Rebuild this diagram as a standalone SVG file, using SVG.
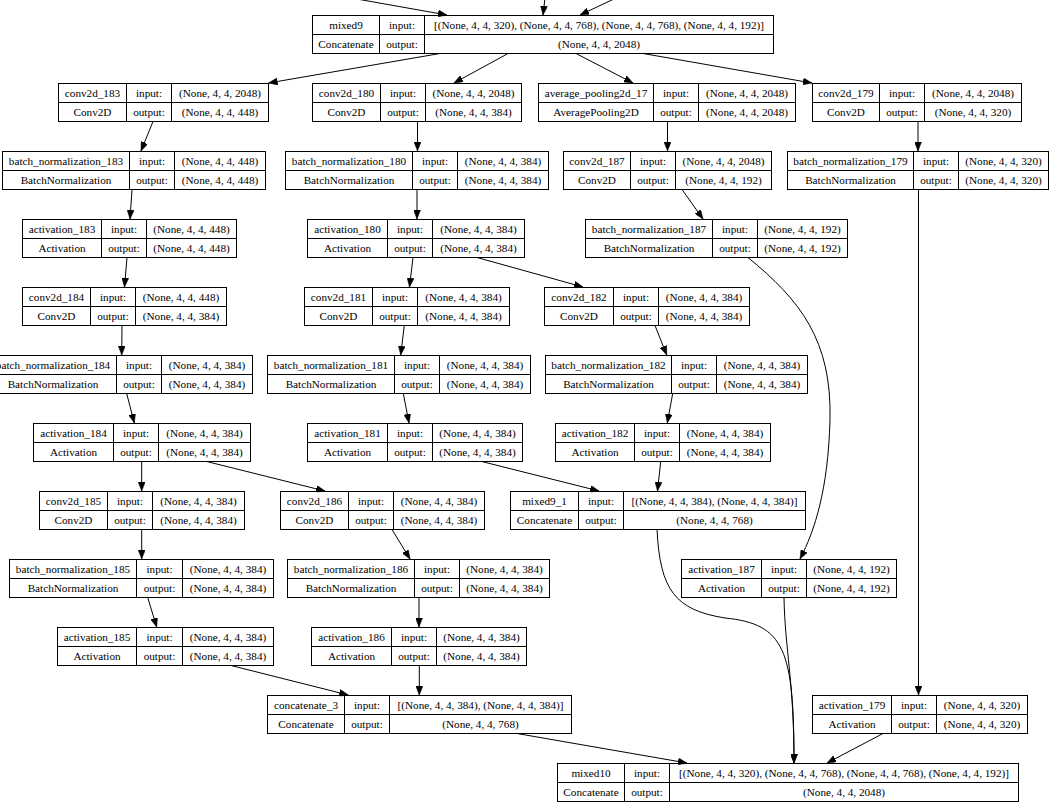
<svg xmlns="http://www.w3.org/2000/svg" width="1055" height="804" viewBox="0 0 1055 804">
<defs>
<style>
.n rect{fill:#fff;stroke:#000;stroke-width:1}
.n path{fill:none;stroke:#000;stroke-width:1}
.n text{font-family:"Liberation Serif","Times New Roman",serif;font-size:11.2px;text-anchor:middle;fill:#000}
.e path{fill:none;stroke:#000;stroke-width:1;marker-end:url(#ah)}
</style>
<marker id="ah" markerWidth="9" markerHeight="7" refX="9" refY="3.5" orient="auto" markerUnits="userSpaceOnUse"><path d="M0,0 L9,3.5 L0,7 z" fill="#000" stroke="#000" stroke-width="0.5"/></marker>
</defs>
<rect width="1055" height="804" fill="#fff"/>

<g id="nodes">
<g id="mixed9" class="n"><rect x="312.5" y="15.5" width="461" height="38"/><path d="M312.5 34.5H773.5M379.5 15.5V53.5M424.5 15.5V53.5"/>
<text x="346" y="29">mixed9</text><text x="402" y="29">input:</text><text x="599" y="29">[(None, 4, 4, 320), (None, 4, 4, 768), (None, 4, 4, 768), (None, 4, 4, 192)]</text>
<text x="346" y="48">Concatenate</text><text x="402" y="48">output:</text><text x="599" y="48">(None, 4, 4, 2048)</text></g>

<g id="conv2d_183" class="n"><rect x="58.5" y="83.5" width="210" height="38"/><path d="M58.5 102.5H268.5M126.5 83.5V121.5M171.5 83.5V121.5"/>
<text x="92.5" y="97">conv2d_183</text><text x="149" y="97">input:</text><text x="220" y="97">(None, 4, 4, 2048)</text>
<text x="92.5" y="116">Conv2D</text><text x="149" y="116">output:</text><text x="220" y="116">(None, 4, 4, 448)</text></g>

<g id="conv2d_180" class="n"><rect x="312.5" y="83.5" width="209" height="38"/><path d="M312.5 102.5H521.5M380.5 83.5V121.5M425.5 83.5V121.5"/>
<text x="346.5" y="97">conv2d_180</text><text x="403" y="97">input:</text><text x="473.5" y="97">(None, 4, 4, 2048)</text>
<text x="346.5" y="116">Conv2D</text><text x="403" y="116">output:</text><text x="473.5" y="116">(None, 4, 4, 384)</text></g>

<g id="average_pooling2d_17" class="n"><rect x="538.5" y="83.5" width="257" height="38"/><path d="M538.5 102.5H795.5M653.5 83.5V121.5M698.5 83.5V121.5"/>
<text x="596" y="97">average_pooling2d_17</text><text x="676" y="97">input:</text><text x="747" y="97">(None, 4, 4, 2048)</text>
<text x="596" y="116">AveragePooling2D</text><text x="676" y="116">output:</text><text x="747" y="116">(None, 4, 4, 2048)</text></g>

<g id="conv2d_179" class="n"><rect x="812.5" y="83.5" width="209" height="38"/><path d="M812.5 102.5H1021.5M879.5 83.5V121.5M924.5 83.5V121.5"/>
<text x="846" y="97">conv2d_179</text><text x="902" y="97">input:</text><text x="973" y="97">(None, 4, 4, 2048)</text>
<text x="846" y="116">Conv2D</text><text x="902" y="116">output:</text><text x="973" y="116">(None, 4, 4, 320)</text></g>

<g id="batch_normalization_183" class="n"><rect x="2.5" y="151.5" width="263" height="38"/><path d="M2.5 170.5H265.5M129.5 151.5V189.5M174.5 151.5V189.5"/>
<text x="66" y="165">batch_normalization_183</text><text x="152" y="165">input:</text><text x="220" y="165">(None, 4, 4, 448)</text>
<text x="66" y="184">BatchNormalization</text><text x="152" y="184">output:</text><text x="220" y="184">(None, 4, 4, 448)</text></g>

<g id="batch_normalization_180" class="n"><rect x="285.5" y="151.5" width="263" height="38"/><path d="M285.5 170.5H548.5M412.5 151.5V189.5M457.5 151.5V189.5"/>
<text x="349" y="165">batch_normalization_180</text><text x="435" y="165">input:</text><text x="503" y="165">(None, 4, 4, 384)</text>
<text x="349" y="184">BatchNormalization</text><text x="435" y="184">output:</text><text x="503" y="184">(None, 4, 4, 384)</text></g>

<g id="conv2d_187" class="n"><rect x="563.5" y="151.5" width="208" height="38"/><path d="M563.5 170.5H771.5M630.5 151.5V189.5M675.5 151.5V189.5"/>
<text x="597" y="165">conv2d_187</text><text x="653" y="165">input:</text><text x="723.5" y="165">(None, 4, 4, 2048)</text>
<text x="597" y="184">Conv2D</text><text x="653" y="184">output:</text><text x="723.5" y="184">(None, 4, 4, 192)</text></g>

<g id="batch_normalization_179" class="n"><rect x="787.5" y="151.5" width="261" height="38"/><path d="M787.5 170.5H1048.5M913.5 151.5V189.5M958.5 151.5V189.5"/>
<text x="850.5" y="165">batch_normalization_179</text><text x="936" y="165">input:</text><text x="1003.5" y="165">(None, 4, 4, 320)</text>
<text x="850.5" y="184">BatchNormalization</text><text x="936" y="184">output:</text><text x="1003.5" y="184">(None, 4, 4, 320)</text></g>

<g id="activation_183" class="n"><rect x="22.5" y="219.5" width="214" height="38"/><path d="M22.5 238.5H236.5M101.5 219.5V257.5M146.5 219.5V257.5"/>
<text x="62" y="233">activation_183</text><text x="124" y="233">input:</text><text x="191.5" y="233">(None, 4, 4, 448)</text>
<text x="62" y="252">Activation</text><text x="124" y="252">output:</text><text x="191.5" y="252">(None, 4, 4, 448)</text></g>

<g id="activation_180" class="n"><rect x="307.5" y="219.5" width="217" height="38"/><path d="M307.5 238.5H524.5M387.5 219.5V257.5M432.5 219.5V257.5"/>
<text x="347.5" y="233">activation_180</text><text x="410" y="233">input:</text><text x="478.5" y="233">(None, 4, 4, 384)</text>
<text x="347.5" y="252">Activation</text><text x="410" y="252">output:</text><text x="478.5" y="252">(None, 4, 4, 384)</text></g>

<g id="batch_normalization_187" class="n"><rect x="585.5" y="219.5" width="262" height="38"/><path d="M585.5 238.5H847.5M712.5 219.5V257.5M757.5 219.5V257.5"/>
<text x="649" y="233">batch_normalization_187</text><text x="735" y="233">input:</text><text x="802.5" y="233">(None, 4, 4, 192)</text>
<text x="649" y="252">BatchNormalization</text><text x="735" y="252">output:</text><text x="802.5" y="252">(None, 4, 4, 192)</text></g>

<g id="conv2d_184" class="n"><rect x="22.5" y="287.5" width="204" height="38"/><path d="M22.5 306.5H226.5M90.5 287.5V325.5M135.5 287.5V325.5"/>
<text x="56.5" y="301">conv2d_184</text><text x="113" y="301">input:</text><text x="181" y="301">(None, 4, 4, 448)</text>
<text x="56.5" y="320">Conv2D</text><text x="113" y="320">output:</text><text x="181" y="320">(None, 4, 4, 384)</text></g>

<g id="conv2d_181" class="n"><rect x="304.5" y="287.5" width="205" height="38"/><path d="M304.5 306.5H509.5M372.5 287.5V325.5M417.5 287.5V325.5"/>
<text x="338.5" y="301">conv2d_181</text><text x="395" y="301">input:</text><text x="463.5" y="301">(None, 4, 4, 384)</text>
<text x="338.5" y="320">Conv2D</text><text x="395" y="320">output:</text><text x="463.5" y="320">(None, 4, 4, 384)</text></g>

<g id="conv2d_182" class="n"><rect x="544.5" y="287.5" width="205" height="38"/><path d="M544.5 306.5H749.5M613.5 287.5V325.5M658.5 287.5V325.5"/>
<text x="579" y="301">conv2d_182</text><text x="636" y="301">input:</text><text x="704" y="301">(None, 4, 4, 384)</text>
<text x="579" y="320">Conv2D</text><text x="636" y="320">output:</text><text x="704" y="320">(None, 4, 4, 384)</text></g>

<g id="batch_normalization_184" class="n"><rect x="-10.5" y="355.5" width="263" height="38"/><path d="M-10.5 374.5H252.5M116.5 355.5V393.5M161.5 355.5V393.5"/>
<text x="53" y="369">batch_normalization_184</text><text x="139" y="369">input:</text><text x="207" y="369">(None, 4, 4, 384)</text>
<text x="53" y="388">BatchNormalization</text><text x="139" y="388">output:</text><text x="207" y="388">(None, 4, 4, 384)</text></g>

<g id="batch_normalization_181" class="n"><rect x="267.5" y="355.5" width="263" height="38"/><path d="M267.5 374.5H530.5M394.5 355.5V393.5M439.5 355.5V393.5"/>
<text x="331" y="369">batch_normalization_181</text><text x="417" y="369">input:</text><text x="485" y="369">(None, 4, 4, 384)</text>
<text x="331" y="388">BatchNormalization</text><text x="417" y="388">output:</text><text x="485" y="388">(None, 4, 4, 384)</text></g>

<g id="batch_normalization_182" class="n"><rect x="545.5" y="355.5" width="262" height="38"/><path d="M545.5 374.5H807.5M671.5 355.5V393.5M716.5 355.5V393.5"/>
<text x="608.5" y="369">batch_normalization_182</text><text x="694" y="369">input:</text><text x="762" y="369">(None, 4, 4, 384)</text>
<text x="608.5" y="388">BatchNormalization</text><text x="694" y="388">output:</text><text x="762" y="388">(None, 4, 4, 384)</text></g>

<g id="activation_184" class="n"><rect x="33.5" y="423.5" width="217" height="38"/><path d="M33.5 442.5H250.5M113.5 423.5V461.5M158.5 423.5V461.5"/>
<text x="73.5" y="437">activation_184</text><text x="136" y="437">input:</text><text x="204.5" y="437">(None, 4, 4, 384)</text>
<text x="73.5" y="456">Activation</text><text x="136" y="456">output:</text><text x="204.5" y="456">(None, 4, 4, 384)</text></g>

<g id="activation_181" class="n"><rect x="307.5" y="423.5" width="215" height="38"/><path d="M307.5 442.5H522.5M387.5 423.5V461.5M432.5 423.5V461.5"/>
<text x="347.5" y="437">activation_181</text><text x="410" y="437">input:</text><text x="477.5" y="437">(None, 4, 4, 384)</text>
<text x="347.5" y="456">Activation</text><text x="410" y="456">output:</text><text x="477.5" y="456">(None, 4, 4, 384)</text></g>

<g id="activation_182" class="n"><rect x="555.5" y="423.5" width="215" height="38"/><path d="M555.5 442.5H770.5M634.5 423.5V461.5M679.5 423.5V461.5"/>
<text x="595" y="437">activation_182</text><text x="657" y="437">input:</text><text x="725" y="437">(None, 4, 4, 384)</text>
<text x="595" y="456">Activation</text><text x="657" y="456">output:</text><text x="725" y="456">(None, 4, 4, 384)</text></g>

<g id="conv2d_185" class="n"><rect x="39.5" y="491.5" width="205" height="38"/><path d="M39.5 510.5H244.5M107.5 491.5V529.5M152.5 491.5V529.5"/>
<text x="73.5" y="505">conv2d_185</text><text x="130" y="505">input:</text><text x="198.5" y="505">(None, 4, 4, 384)</text>
<text x="73.5" y="524">Conv2D</text><text x="130" y="524">output:</text><text x="198.5" y="524">(None, 4, 4, 384)</text></g>

<g id="conv2d_186" class="n"><rect x="280.5" y="491.5" width="204" height="38"/><path d="M280.5 510.5H484.5M348.5 491.5V529.5M393.5 491.5V529.5"/>
<text x="314.5" y="505">conv2d_186</text><text x="371" y="505">input:</text><text x="439" y="505">(None, 4, 4, 384)</text>
<text x="314.5" y="524">Conv2D</text><text x="371" y="524">output:</text><text x="439" y="524">(None, 4, 4, 384)</text></g>

<g id="mixed9_1" class="n"><rect x="510.5" y="491.5" width="295" height="38"/><path d="M510.5 510.5H805.5M578.5 491.5V529.5M623.5 491.5V529.5"/>
<text x="544.5" y="505">mixed9_1</text><text x="601" y="505">input:</text><text x="714.5" y="505">[(None, 4, 4, 384), (None, 4, 4, 384)]</text>
<text x="544.5" y="524">Concatenate</text><text x="601" y="524">output:</text><text x="714.5" y="524">(None, 4, 4, 768)</text></g>

<g id="batch_normalization_185" class="n"><rect x="9.5" y="559.5" width="264" height="38"/><path d="M9.5 578.5H273.5M136.5 559.5V597.5M182.5 559.5V597.5"/>
<text x="73" y="573">batch_normalization_185</text><text x="159.5" y="573">input:</text><text x="228" y="573">(None, 4, 4, 384)</text>
<text x="73" y="592">BatchNormalization</text><text x="159.5" y="592">output:</text><text x="228" y="592">(None, 4, 4, 384)</text></g>

<g id="batch_normalization_186" class="n"><rect x="287.5" y="559.5" width="262" height="38"/><path d="M287.5 578.5H549.5M414.5 559.5V597.5M459.5 559.5V597.5"/>
<text x="351" y="573">batch_normalization_186</text><text x="437" y="573">input:</text><text x="504.5" y="573">(None, 4, 4, 384)</text>
<text x="351" y="592">BatchNormalization</text><text x="437" y="592">output:</text><text x="504.5" y="592">(None, 4, 4, 384)</text></g>

<g id="activation_187" class="n"><rect x="681.5" y="559.5" width="215" height="38"/><path d="M681.5 578.5H896.5M761.5 559.5V597.5M806.5 559.5V597.5"/>
<text x="721.5" y="573">activation_187</text><text x="784" y="573">input:</text><text x="851.5" y="573">(None, 4, 4, 192)</text>
<text x="721.5" y="592">Activation</text><text x="784" y="592">output:</text><text x="851.5" y="592">(None, 4, 4, 192)</text></g>

<g id="activation_185" class="n"><rect x="57.5" y="627.5" width="216" height="38"/><path d="M57.5 646.5H273.5M136.5 627.5V665.5M182.5 627.5V665.5"/>
<text x="97" y="641">activation_185</text><text x="159.5" y="641">input:</text><text x="228" y="641">(None, 4, 4, 384)</text>
<text x="97" y="660">Activation</text><text x="159.5" y="660">output:</text><text x="228" y="660">(None, 4, 4, 384)</text></g>

<g id="activation_186" class="n"><rect x="311.5" y="627.5" width="215" height="38"/><path d="M311.5 646.5H526.5M391.5 627.5V665.5M436.5 627.5V665.5"/>
<text x="351.5" y="641">activation_186</text><text x="414" y="641">input:</text><text x="481.5" y="641">(None, 4, 4, 384)</text>
<text x="351.5" y="660">Activation</text><text x="414" y="660">output:</text><text x="481.5" y="660">(None, 4, 4, 384)</text></g>

<g id="concatenate_3" class="n"><rect x="267.5" y="695.5" width="304" height="38"/><path d="M267.5 714.5H571.5M344.5 695.5V733.5M389.5 695.5V733.5"/>
<text x="306" y="709">concatenate_3</text><text x="367" y="709">input:</text><text x="480.5" y="709">[(None, 4, 4, 384), (None, 4, 4, 384)]</text>
<text x="306" y="728">Concatenate</text><text x="367" y="728">output:</text><text x="480.5" y="728">(None, 4, 4, 768)</text></g>

<g id="activation_179" class="n"><rect x="812.5" y="695.5" width="215" height="38"/><path d="M812.5 714.5H1027.5M891.5 695.5V733.5M936.5 695.5V733.5"/>
<text x="852" y="709">activation_179</text><text x="914" y="709">input:</text><text x="982" y="709">(None, 4, 4, 320)</text>
<text x="852" y="728">Activation</text><text x="914" y="728">output:</text><text x="982" y="728">(None, 4, 4, 320)</text></g>

<g id="mixed10" class="n"><rect x="557.5" y="763.5" width="461" height="38"/><path d="M557.5 782.5H1018.5M624.5 763.5V801.5M669.5 763.5V801.5"/>
<text x="591" y="777">mixed10</text><text x="647" y="777">input:</text><text x="844" y="777">[(None, 4, 4, 320), (None, 4, 4, 768), (None, 4, 4, 768), (None, 4, 4, 192)]</text>
<text x="591" y="796">Concatenate</text><text x="647" y="796">output:</text><text x="844" y="796">(None, 4, 4, 2048)</text></g>
</g>

<g id="connectors" class="e">
<path d="M340 -4L447 15"/>
<path d="M545 -2L543 15"/>
<path d="M616 -2L580 15"/>
<path d="M440 53.5L268.5 83"/>
<path d="M508 53.5L454 83"/>
<path d="M576 53.5L633 83"/>
<path d="M643 53.5L812 83"/>
<path d="M153 121.5L141 151"/>
<path d="M417.5 121.5L417.5 151"/>
<path d="M667.5 121.5L667.5 151"/>
<path d="M918 121.5L918 151"/>
<path d="M132 189.5L130 219"/>
<path d="M417 189.5L417 219"/>
<path d="M682 189.5L703 219"/>
<path d="M918.5 189.5L918.5 695"/>
<path d="M127 257.5L124.5 287"/>
<path d="M413 257.5L409.5 287"/>
<path d="M477 257.5L583 287"/>
<path d="M748 257.5C800 300 832 340 830 420C828 490 815 530 800 559"/>
<path d="M122 325.5L121.7 355"/>
<path d="M404.3 325.5L400.7 355"/>
<path d="M655 325.5L666.7 355"/>
<path d="M126.7 393.5L134.3 423"/>
<path d="M403.3 393.5L409 423"/>
<path d="M672.7 393.5L667.3 423"/>
<path d="M141.7 461.5L141.7 491"/>
<path d="M206.7 461.5L325 491"/>
<path d="M481.7 461.5L599 491"/>
<path d="M660.7 461.5L657.5 491"/>
<path d="M141.7 529.5L141.7 559"/>
<path d="M392 529.5L410 559"/>
<path d="M657 529.5C660 590 675 610 725 618C785 624 794 650 794 763"/>
<path d="M784 597.5C785 650 794 680 794 763"/>
<path d="M147.7 597.5L156.7 627"/>
<path d="M419 597.5L419 627"/>
<path d="M231 665.5L348.3 695"/>
<path d="M419.3 665.5L419.3 695"/>
<path d="M517 733.5L687 763"/>
<path d="M883 733.5L827 763"/>
</g>
</svg>
